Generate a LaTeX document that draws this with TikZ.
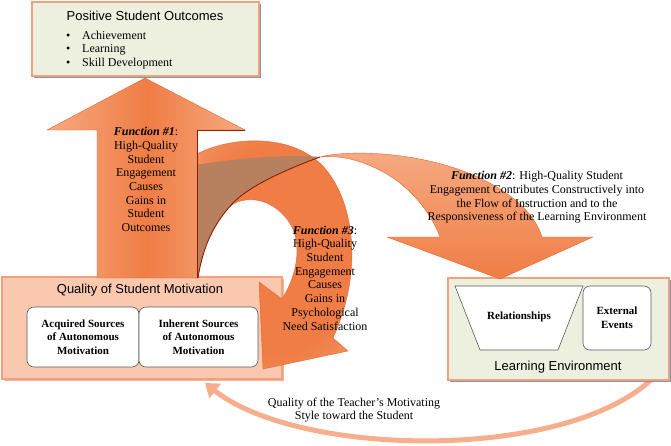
\documentclass[tikz,border=0pt]{standalone}
\usepackage{fontspec}
\setmainfont{Liberation Serif}
\setsansfont{Liberation Sans}
\usepackage{tikz}
\usetikzlibrary{arrows.meta,shadows}

\definecolor{orlight}{HTML}{F6AA82}
\definecolor{ormid}{HTML}{F07D45}
\definecolor{ordark}{HTML}{DC6A36}
\definecolor{edgered}{HTML}{8E1E05}
\definecolor{backbrown}{HTML}{B7805F}
\definecolor{paleground}{HTML}{EEF0DF}
\definecolor{salmonline}{HTML}{F3A17D}
\definecolor{salmonfill}{HTML}{F9C8AE}
\definecolor{shadowblue}{HTML}{7088A8}
\definecolor{looporange}{HTML}{F6AE8C}

\pgfdeclareradialshading{ringshade}{\pgfpoint{0bp}{0bp}}{color(0bp)=(ormid); color(22bp)=(ormid); color(44bp)=(orlight); color(50bp)=(orlight)}

\newcommand{\funcname}[1]{\textbf{\textit{#1}}}
\newcommand{\bul}{\makebox[16pt][l]{\textbullet}}

\begin{document}
\begin{tikzpicture}[x=1pt,y=-1pt,
  every node/.style={inner sep=0pt},
  plain text/.style={font=\fontsize{12}{13.7}\selectfont, align=center},
  box title/.style={font=\sffamily\fontsize{13}{15}\selectfont},
  source text/.style={font=\fontsize{11}{13.6}\selectfont\bfseries, align=center},
  green box/.style={draw=salmonline, line width=2pt, fill=paleground,
    drop shadow={shadow xshift=2pt, shadow yshift=-2pt, fill=shadowblue, opacity=.9}},
  salmon box/.style={draw=salmonline, line width=2pt, fill=salmonfill,
    drop shadow={shadow xshift=1.5pt, shadow yshift=-1.5pt, fill=ordark, opacity=.5}},
  source box/.style={draw=black!65, line width=0.6pt, fill=white, rounded corners=7pt},
  arrow body/.style={draw=ordark, line width=0.4pt},
  back edge/.style={draw=edgered, line width=0.9pt},
  loop arrow/.style={draw=looporange, line width=5pt, -{Triangle[length=13pt,width=18pt]}}]
\useasboundingbox (0,0) rectangle (671,445);

% teacher loop
\draw[loop arrow] (655,376) .. controls (570,462) and (300,458) .. (205,383);

% outcomes
\node[green box, minimum width=227pt, minimum height=74pt] (outcomes) at (145.5,39) {};
\node[box title] (outcomes title) at (145,16) {Positive Student Outcomes};
\node[plain text, align=left, anchor=west] (outcomes list) at (66,50)
  {\bul Achievement\\\bul Learning\\\bul Skill Development};

% motivation
\node[salmon box, minimum width=280pt, minimum height=102pt] (motivation) at (142,328) {};
\node[box title] (motivation title) at (140,290) {Quality of Student Motivation};
\node[source box, minimum width=112pt, minimum height=60pt] (acquired) at (83,337) {};
\node[source text] at (acquired) {Acquired Sources\\of Autonomous\\Motivation};
\node[source box, minimum width=119pt, minimum height=60pt] (inherent) at (198.5,337) {};
\node[source text] at (inherent) {Inherent Sources\\of Autonomous\\Motivation};

% environment
\node[green box, minimum width=221pt, minimum height=102pt] (environment) at (558.5,329) {};
\draw[source box, rounded corners=0pt] (455,286) -- (583,286) -- (558,350) -- (480,350) -- cycle;
\node[source text] (relationships) at (519,317) {Relationships};
\node[source box, minimum width=68pt, minimum height=64pt] (external) at (617,318) {};
\node[source text] at (external) {External\\Events};
\node[box title] (environment title) at (558,367) {Learning Environment};

% function 3
\shadedraw[shading=ringshade, arrow body] (190,158) .. controls (225,135) and (300,130) .. (330,175)
  .. controls (355,210) and (362,275) .. (333,338) -- (348,351) -- (263,369) -- (259,282) -- (282,299)
  .. controls (300,270) and (302,238) .. (287,219) .. controls (272,200) and (250,195) .. (233,204)
  -- (190,240) -- cycle;
\fill[backbrown] (195,165) .. controls (240,158) and (290,154) .. (320,157)
  .. controls (290,168) and (250,185) .. (233,203) .. controls (215,222) and (203,245) .. (198,278)
  -- (195,278) -- cycle;

% function 1
\shadedraw[left color=orlight, right color=orlight, middle color=ormid, arrow body]
  (97,278) -- (97,130) -- (47,130) -- (145,78) -- (245,130) -- (197,130) -- (197,278) -- cycle;
\draw[back edge] (245,130) -- (197,130) -- (197,278);

% function 2
\shadedraw[top color=orlight, bottom color=ormid, arrow body] (320,157)
  .. controls (345,150) and (420,150) .. (480,178) .. controls (515,195) and (535,215) .. (542,237)
  -- (593,237) -- (500,279) -- (387,237) -- (440,237)
  .. controls (430,210) and (408,186) .. (385,173) .. controls (362,160) and (340,155) .. (320,157) -- cycle;
\draw[back edge] (198,278) .. controls (203,245) and (215,222) .. (233,203)
  .. controls (250,185) and (290,168) .. (320,157);

\node[plain text] (function one) at (146,179.5) {\funcname{Function \#1}:\\High-Quality\\Student\\Engagement\\Causes\\Gains in\\Student\\Outcomes};
\node[plain text] (function two) at (537,197.5) {\funcname{Function \#2}: High-Quality Student\\Engagement Contributes Constructively into\\the Flow of Instruction and to the\\Responsiveness of the Learning Environment};
\node[plain text] (function three) at (325,278) {\funcname{Function \#3}:\\High-Quality\\Student\\Engagement\\Causes\\Gains in\\Psychological\\Need Satisfaction};
\node[plain text] (teacher style) at (354,410) {Quality of the Teacher's Motivating\\Style toward the Student};
\end{tikzpicture}
\end{document}
